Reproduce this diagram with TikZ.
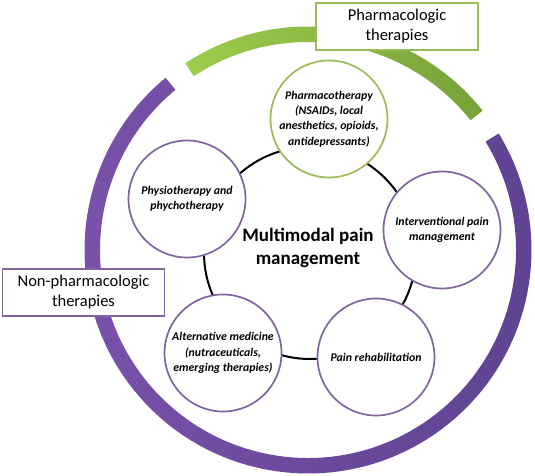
\documentclass[tikz,border=0pt]{standalone}
\usepackage{fontspec}
\setmainfont{Carlito}
\definecolor{ringpurpleL}{HTML}{7A52AA}
\definecolor{ringpurpleD}{HTML}{5E4290}
\definecolor{ringgreenL}{HTML}{9ECC4B}
\definecolor{ringgreenD}{HTML}{76A23A}
\definecolor{linepurple}{HTML}{8064A2}
\definecolor{linegreen}{HTML}{9BBB59}
\begin{document}
\begin{tikzpicture}[x=1pt,y=1pt,
  therapy/.style={circle,draw=linepurple,line width=1.7pt,fill=white,minimum size=117pt,inner sep=0pt,align=center,font=\fontsize{11.8}{15.4}\selectfont\bfseries\itshape},
  groupbox/.style={draw,line width=1.8pt,fill=white,minimum width=162pt,minimum height=47pt,align=center,font=\fontsize{16.5}{20}\selectfont}]
\useasboundingbox (0,0) rectangle (535,-476);
\begin{scope}[shift={(308,-250)}]
\shade[left color=ringpurpleL,right color=ringpurpleD] (129.6:223.5) arc[start angle=129.6,end angle=391.4,radius=223.5] -- (391.4:208) arc[start angle=391.4,end angle=129.6,radius=208] -- cycle;
\shade[left color=ringgreenL,right color=ringgreenD] (38.6:223.5) arc[start angle=38.6,end angle=123.3,radius=223.5] -- (123.3:208) arc[start angle=123.3,end angle=38.6,radius=208] -- cycle;
\end{scope}
%%%%
\coordinate (hub) at (310,-253);
\draw[line width=2pt] (hub) circle [radius=106];
\node[therapy,draw=linegreen] (pharma) at (329,-119) {Pharmacotherapy\\(NSAIDs, local\\anesthetics, opioids,\\antidepressants)};
\node[therapy] (physio) at (187,-199) {Physiotherapy and\\phychotherapy};
\node[therapy] (interv) at (442,-230) {Interventional pain\\management};
\node[therapy] (rehab) at (376,-357) {Pain rehabilitation};
\node[therapy] (altmed) at (223,-353) {Alternative medicine\\(nutraceuticals,\\emerging therapies)};
\node[font=\fontsize{19}{22.5}\selectfont\bfseries,align=center] (mmpm) at (308,-248) {Multimodal pain\\management};
%%%%
\node[groupbox,draw=linegreen] (pharmgroup) at (397,-26.5) {Pharmacologic\\therapies};
\node[groupbox,draw=linepurple] (nongroup) at (83.5,-292.5) {Non-pharmacologic\\therapies};
\end{tikzpicture}
\end{document}
